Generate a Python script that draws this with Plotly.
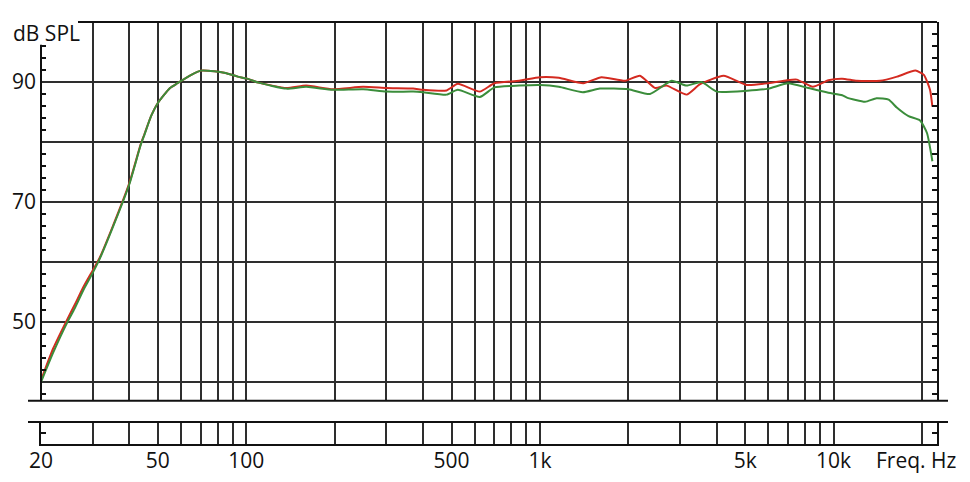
import plotly.graph_objects as go
import math

# ---------------- data ----------------
green_freq = [20, 22, 24.6, 26, 28, 30, 31.6, 35, 40, 43.7, 45, 47.4, 50, 55, 58.3, 65, 70, 77.8, 85, 93.4,
              100, 110, 137, 160, 197, 250, 300, 370, 400, 481, 525, 624, 700, 850, 1000, 1160, 1400, 1600,
              2000, 2370, 2810, 3160, 3550, 4000, 5070, 6000, 7000, 8200, 9600, 10700, 11100, 12800, 14000,
              15400, 16450, 18000, 19700, 20800, 21700]
green_db = [40.0, 44.9, 50.0, 52.2, 55.5, 58.2, 60.4, 65.6, 73.0, 79.5, 81.2, 84.3, 86.5, 89.0, 89.8, 91.2, 91.9, 91.8, 91.5, 90.9,
            90.6, 89.9, 88.9, 89.2, 88.7, 88.8, 88.4, 88.4, 88.3, 87.9, 88.7, 87.5, 89.1, 89.4, 89.5, 89.2, 88.3, 88.9,
            88.8, 88.0, 90.2, 89.4, 90.0, 88.4, 88.55, 88.9, 89.8, 89.0, 88.2, 87.8, 87.4, 86.7, 87.3,
            87.05, 85.7, 84.3, 83.6, 81.5, 76.8]

red_freq = [20, 22, 24.6, 26, 28, 30, 31.6, 35, 40, 43.7, 45, 47.4, 50, 55, 58.3, 65, 70, 77.8, 85, 93.4,
            100, 110, 137, 160, 197, 250, 300, 370, 400, 481, 525, 624, 700, 850, 1000, 1160, 1405, 1620,
            1950, 2190, 2470, 2700, 3160, 3500, 4220, 5070, 6000, 6930, 7500, 8500, 9600, 10700, 12000,
            14400, 16450, 19000, 20300, 21300, 21700]
red_db = [40.3, 45.6, 50.5, 52.8, 56.0, 58.6, 60.6, 65.8, 73.2, 79.6, 81.3, 84.3, 86.5, 89.0, 89.8, 91.2, 91.9, 91.8, 91.5, 90.9,
          90.6, 89.9, 89.0, 89.4, 88.8, 89.2, 89.0, 88.9, 88.7, 88.6, 89.7, 88.4, 89.8, 90.2, 90.8, 90.7, 89.8, 90.8,
          90.2, 91.05, 89.0, 89.4, 87.9, 89.6, 91.05, 89.5, 89.8, 90.3, 90.4, 89.2, 90.3, 90.55, 90.2,
          90.2, 90.9, 91.9, 91.2, 88.7, 85.9]

grid_freqs = [20, 30, 40, 50, 60, 70, 80, 90, 100, 200, 300, 400, 500, 600, 700, 800, 900,
              1000, 2000, 3000, 4000, 5000, 6000, 7000, 8000, 9000, 10000, 20000]
freq_labels = {20: "20", 50: "50", 100: "100", 500: "500", 1000: "1k", 5000: "5k", 10000: "10k"}
db_grid = [40, 50, 60, 70, 80, 90]
db_labels = {50: "50", 70: "70", 90: "90"}

# ---------------- layout constants ----------------
# the page body has an 8 px margin, so the figure is drawn at (8, 8)
OFF = 8
WIN_W, WIN_H = 970, 482
PL, PR, PT, PB = 41, 937, 22, 444          # plot area in window pixels
W, H = WIN_W - OFF, WIN_H - OFF
ML, MR, MT, MB = PL - OFF, WIN_W - PR, PT - OFF, WIN_H - PB
PW, PH = PR - PL, PB - PT
Y_MIN, Y_MAX = 36.9, 100
main_bottom = (PB - 400.7) / PH
strip_top = (PB - 422) / PH
X_RANGE = [math.log10(20), math.log10(22500)]
GRID = "#2e2e2e"
INK = "#111111"
FONT = "Open Sans, Noto Sans, sans-serif"


def px_x(x):
    return (x - PL) / PW


def px_y(y):
    return (PB - y) / PH


minor_left = [v for v in range(38, 97, 2) if v % 10]
minor_right = [v for v in range(38, 100, 2) if v % 10]

fig = go.Figure()
fig.add_trace(go.Scatter(x=red_freq, y=red_db, mode="lines", line=dict(color="#d42a20", width=2, shape="spline", smoothing=0.5),
                         showlegend=False, hoverinfo="skip"))
fig.add_trace(go.Scatter(x=green_freq, y=green_db, mode="lines", line=dict(color="#3b8d3b", width=2, shape="spline", smoothing=0.5),
                         showlegend=False, hoverinfo="skip"))
# empty traces to bring the right axis and the bottom strip into being
fig.add_trace(go.Scatter(x=[None], y=[None], yaxis="y3", showlegend=False, hoverinfo="skip"))
fig.add_trace(go.Scatter(x=[None], y=[None], xaxis="x2", yaxis="y2", showlegend=False, hoverinfo="skip"))

xcommon = dict(type="log", range=X_RANGE, tickmode="array", tickvals=grid_freqs, automargin=False,
               showgrid=True, gridcolor=GRID, gridwidth=1.5, zeroline=False, ticks="")

fig.update_layout(
    width=W, height=H, margin=dict(l=ML, r=MR, t=MT, b=MB, pad=0, autoexpand=False),
    paper_bgcolor="white", plot_bgcolor="white",
    font=dict(family=FONT, color=INK, size=21),
    xaxis=dict(**xcommon, anchor="y", showticklabels=False, showline=False),
    xaxis2=dict(**xcommon, anchor="y2", matches="x",
                ticktext=[freq_labels.get(f, "") for f in grid_freqs],
                showticklabels=True, showline=True, linecolor=INK, linewidth=2,
                tickfont=dict(size=21, family=FONT, color=INK), ticklabelstandoff=-3),
    yaxis=dict(domain=[main_bottom, 1], range=[Y_MIN, Y_MAX], tickmode="array", tickvals=db_grid, automargin=False,
               ticktext=[db_labels.get(v, "") for v in db_grid], showgrid=True, gridcolor=GRID, gridwidth=1.5,
               zeroline=False, showline=False, ticks="", ticklabelstandoff=4,
               tickfont=dict(size=21, family=FONT, color=INK),
               minor=dict(tickmode="array", tickvals=minor_left, ticks="inside", ticklen=5, tickwidth=1.5,
                          tickcolor=INK, showgrid=False)),
    yaxis3=dict(overlaying="y", side="right", anchor="x", range=[Y_MIN, Y_MAX], showgrid=False, zeroline=False,
                showticklabels=False, showline=True, linecolor=INK, linewidth=2, automargin=False,
                tickmode="array", tickvals=[], ticks="",
                minor=dict(tickmode="array", tickvals=minor_right, ticks="inside", ticklen=5, tickwidth=1.5,
                           tickcolor=INK, showgrid=False)),
    yaxis2=dict(domain=[0, strip_top], range=[0, 1], showgrid=False, zeroline=False, showticklabels=False,
                showline=True, mirror="ticks", linecolor=INK, linewidth=2, automargin=False,
                tickmode="array", tickvals=[0.5], ticks="inside", ticklen=5, tickwidth=1.5, tickcolor=INK),
)

ext_l = px_x(28)
ext_r = px_x(948)
shapes = [
    # left axis line of the main panel (open at the top, under the unit label)
    dict(type="line", xref="paper", yref="y", x0=0, x1=0, y0=Y_MIN, y1=96.2, line=dict(color=INK, width=2)),
    # top frame line
    dict(type="line", xref="paper", yref="paper", x0=px_x(78), x1=1, y0=1, y1=1, line=dict(color=INK, width=2)),
    # bottom of main panel, extended
    dict(type="line", xref="paper", yref="y domain", x0=ext_l, x1=ext_r, y0=0, y1=0, line=dict(color=INK, width=2)),
    # top of bottom strip, extended
    dict(type="line", xref="paper", yref="y2 domain", x0=ext_l, x1=ext_r, y0=1, y1=1, line=dict(color=INK, width=2)),
]
fig.update_layout(shapes=shapes)

fig.add_annotation(text="dB SPL", xref="paper", yref="paper", x=px_x(11), y=px_y(33),
                   xanchor="left", yanchor="middle", showarrow=False, font=dict(size=21, family=FONT, color=INK))
fig.add_annotation(text="Freq. Hz", xref="paper", yref="paper", x=px_x(959), y=px_y(460),
                   xanchor="right", yanchor="middle", showarrow=False, font=dict(size=21, family=FONT, color=INK))

fig.write_html("out.html")
